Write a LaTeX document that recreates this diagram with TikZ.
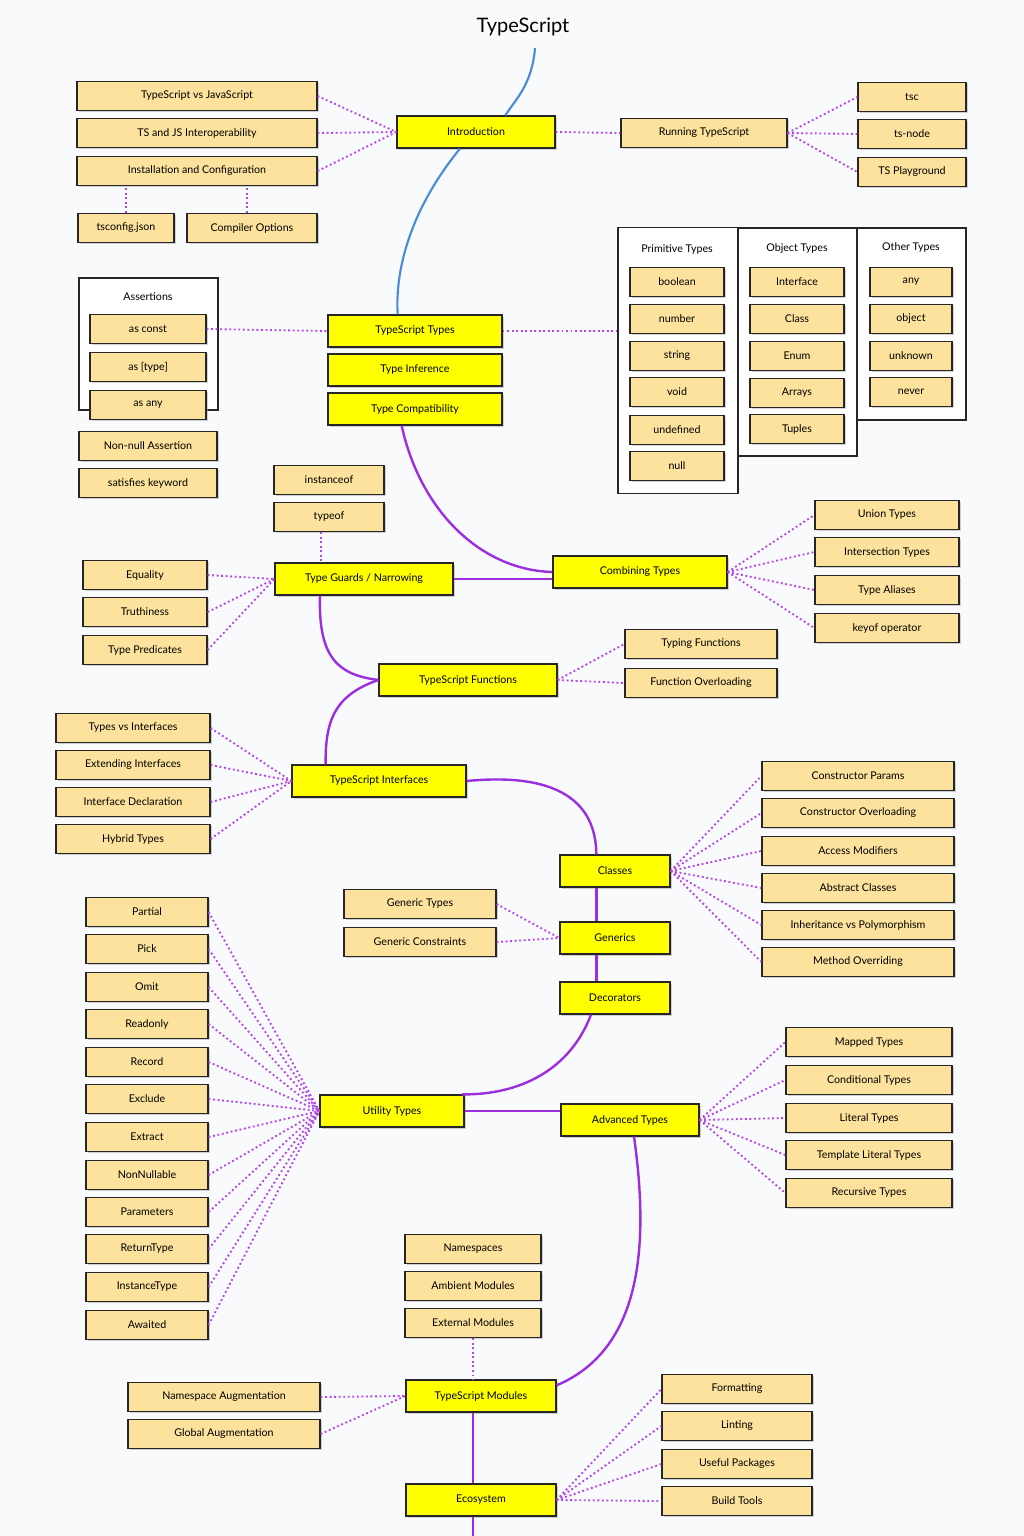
\documentclass[tikz,border=0pt]{standalone}
\usepackage{fontspec}
\setmainfont{Lato}
\usetikzlibrary{shadows}
\definecolor{topicyellow}{HTML}{FFFF00}
\definecolor{subtan}{HTML}{FCE29C}
\definecolor{pathpurple}{HTML}{9B2FE0}
\definecolor{pathblue}{HTML}{4A8CD6}
\definecolor{dotpurple}{HTML}{B445EA}
\definecolor{pagebg}{HTML}{F9FAFC}
\tikzset{
  box/.style={draw=black!85, line width=0.9pt, minimum height=22pt, inner sep=1pt,
    font=\fontsize{8}{9}\selectfont, drop shadow={shadow xshift=1.2pt, shadow yshift=-1.2pt, fill=black!35}},
  topic/.style={box, fill=topicyellow, minimum width=#1*0.75pt, minimum height=24pt},
  sub/.style={box, fill=subtan, minimum width=#1*0.75pt},
  grp/.style={draw=black!85, line width=0.9pt, fill=white, minimum width=#1*0.75pt},
  grplabel/.style={font=\fontsize{8}{9}\selectfont},
  dots/.style={draw=dotpurple, dotted, line width=1.4pt},
  spine/.style={draw=pathpurple, line width=1.8pt},
}
\begin{document}
\begin{tikzpicture}[x=0.75pt, y=-0.75pt]
  \fill[pagebg] (0,0) rectangle (1024,1536);
  \useasboundingbox (0,0) rectangle (1024,1536);

  % Title and introduction
  \node[font=\fontsize{15}{17}\selectfont] (title) at (523,27) {TypeScript};
  \node[topic=158] (intro) at (476,132) {Introduction};
  \node[sub=240] (tsvsjs) at (197,96) {TypeScript vs JavaScript};
  \node[sub=240] (interop) at (197,133) {TS and JS Interoperability};
  \node[sub=240] (install) at (197,171) {Installation and Configuration};
  \node[sub=96] (tsconfig) at (126,228) {tsconfig.json};
  \node[sub=130] (compopt) at (252,228) {Compiler Options};
  \node[sub=166] (running) at (704,133) {Running TypeScript};
  \node[sub=108] (tsc) at (912,97) {tsc};
  \node[sub=108] (tsnode) at (912,134) {ts-node};
  \node[sub=108] (playground) at (912,172) {TS Playground};
  \foreach \n in {tsvsjs,interop,install} \draw[dots] (\n.east) -- (intro.west);
  \draw[dots] (tsconfig.north) -- (tsconfig.north |- install.south);
  \draw[dots] ([xshift=-4pt]compopt.north) -- ([xshift=-4pt]compopt.north |- install.south);
  \draw[dots] (intro.east) -- (running.west);
  \foreach \n in {tsc,tsnode,playground} \draw[dots] (running.east) -- (\n.west);

  % Types
  \node[topic=174] (tstypes) at (415,331) {TypeScript Types};
  \node[topic=174] (inference) at (415,370) {Type Inference};
  \node[topic=174] (compat) at (415,409) {Type Compatibility};
  \draw[pathblue, line width=1.6pt] (535,48) .. controls (532,85) and (515,100) .. ([xshift=22pt]intro.north);
  \draw[pathblue, line width=1.6pt] ([xshift=-12pt]intro.south) .. controls (410,210) and (395,270) .. ([xshift=-13pt]tstypes.north);

  \node[grp=139, minimum height=99pt] (assertbox) at (148.5,344) {};
  \node[grplabel] (assertlbl) at (148,297) {Assertions};
  \node[sub=116] (asconst) at (148,329) {as const};
  \node[sub=116] (astype) at (148,367) {as [type]};
  \node[sub=116] (asany) at (148,405) {as any};
  \node[sub=138] (nonnull) at (148,446) {Non-null Assertion};
  \node[sub=138] (satisfies) at (148,483) {satisfies keyword};
  \draw[dots] (asconst.east) -- (tstypes.west);

  \node[grp=120, minimum height=199pt] (primbox) at (678,360.5) {};
  \node[grp=119, minimum height=171pt] (objbox) at (797.5,342) {};
  \node[grp=109, minimum height=144pt] (otherbox) at (911.5,324) {};
  \node[grplabel] (primlbl) at (677,249) {Primitive Types};
  \node[grplabel] (objlbl) at (797,249) {Object Types};
  \node[grplabel] (otherlbl) at (911,247) {Other Types};
  \foreach \t/\y/\n in {boolean/282/pboolean, number/319/pnumber, string/356/pstring, void/392/pvoid, undefined/430/pundef, null/466/pnull}
    \node[sub=94] (\n) at (677,\y) {\t};
  \foreach \t/\y/\n in {Interface/282/ointerface, Class/319/oclass, Enum/356/oenum, Arrays/393/oarrays, Tuples/429/otuples}
    \node[sub=94] (\n) at (797,\y) {\t};
  \foreach \t/\y/\n in {any/282/tany, object/319/tobject, unknown/356/tunknown, never/392/tnever}
    \node[sub=82] (\n) at (911,\y) {\t};
  \draw[dots] (tstypes.east) -- (tstypes.east -| primbox.west);

  % Combining types and narrowing
  \node[topic=174] (combining) at (640,572) {Combining Types};
  \foreach \t/\y/\n in {Union Types/515/union, Intersection Types/552/inter, Type Aliases/590/aliases, keyof operator/628/keyof} {
    \node[sub=144] (\n) at (887,\y) {\t};
    \draw[dots] (combining.east) -- (\n.west);
  }
  \draw[spine] ([xshift=-10pt]compat.south) .. controls (420,510) and (480,570) .. (combining.west);

  \node[topic=178] (guards) at (364,579) {Type Guards / Narrowing};
  \node[sub=110] (instanceof) at (329,480) {instanceof};
  \node[sub=110] (typeofn) at (329,517) {typeof};
  \draw[dots] ([xshift=-6pt]typeofn.south) -- ([xshift=-6pt]typeofn.south |- guards.north);
  \foreach \t/\y/\n in {Equality/575/equality, Truthiness/612/truthiness, Type Predicates/650/predicates} {
    \node[sub=124] (\n) at (145,\y) {\t};
    \draw[dots] (\n.east) -- (guards.west);
  }
  \draw[spine] (guards.east) -- (guards.east -| combining.west);

  % Functions and interfaces
  \node[topic=178] (functions) at (468,680) {TypeScript Functions};
  \node[sub=152] (typingfn) at (701,644) {Typing Functions};
  \node[sub=152] (overload) at (701,683) {Function Overloading};
  \draw[dots] (functions.east) -- (typingfn.west);
  \draw[dots] (functions.east) -- (overload.west);
  \draw[spine] ([xshift=-33pt]guards.south) .. controls (318,660) and (340,675) .. (functions.west);

  \node[topic=174] (interfaces) at (379,781) {TypeScript Interfaces};
  \foreach \t/\y/\n in {Types vs Interfaces/728/tvi, Extending Interfaces/765/extending, Interface Declaration/802/ideclare, Hybrid Types/839/hybrid} {
    \node[sub=154] (\n) at (133,\y) {\t};
    \draw[dots] (\n.east) -- (interfaces.west);
  }
  \draw[spine] (functions.west) .. controls (335,695) and (325,720) .. ([xshift=-40pt]interfaces.north);

  % Classes, generics, decorators
  \node[topic=110] (classes) at (615,871) {Classes};
  \node[topic=110] (generics) at (615,938) {Generics};
  \node[topic=110] (decorators) at (615,998) {Decorators};
  \foreach \t/\y/\n in {Constructor Params/776/ctorparams, Constructor Overloading/813/ctoroverload, Access Modifiers/851/access, Abstract Classes/888/abstract, Inheritance vs Polymorphism/925/inherit, Method Overriding/962/overriding} {
    \node[sub=192] (\n) at (858,\y) {\t};
    \draw[dots] (classes.east) -- (\n.west);
  }
  \node[sub=152] (gtypes) at (420,904) {Generic Types};
  \node[sub=152] (gconstr) at (420,942) {Generic Constraints};
  \draw[dots] (gtypes.east) -- (generics.west);
  \draw[dots] (gconstr.east) -- (generics.west);
  \draw[spine] (interfaces.east) .. controls (580,770) and (596,820) .. ([xshift=-14pt]classes.north);
  \draw[spine] ([xshift=-14pt]classes.south) -- ([xshift=-14pt]generics.north);
  \draw[spine] ([xshift=-14pt]generics.south) -- ([xshift=-14pt]decorators.north);

  % Utility and advanced types
  \node[topic=144] (utility) at (392,1111) {Utility Types};
  \foreach \t/\y/\n in {Partial/912/upartial, Pick/949/upick, Omit/987/uomit, Readonly/1024/ureadonly, Record/1062/urecord, Exclude/1099/uexclude, Extract/1137/uextract, NonNullable/1175/unonnull, Parameters/1212/uparams, ReturnType/1249/ureturn, InstanceType/1287/uinstance, Awaited/1325/uawaited} {
    \node[sub=122] (\n) at (147,\y) {\t};
    \draw[dots] (\n.east) -- (utility.west);
  }
  \draw[spine] ([xshift=-18pt]decorators.south) .. controls (570,1070) and (520,1095) .. ([xshift=-2pt]utility.north east);

  \node[topic=138] (advanced) at (630,1120) {Advanced Types};
  \foreach \t/\y/\n in {Mapped Types/1042/mapped, Conditional Types/1080/conditional, Literal Types/1118/literal, Template Literal Types/1155/template, Recursive Types/1193/recursive} {
    \node[sub=166] (\n) at (869,\y) {\t};
    \draw[dots] (advanced.east) -- (\n.west);
  }
  \draw[spine] (utility.east) -- (utility.east -| advanced.west);

  % Modules and ecosystem
  \node[topic=150] (modules) at (481,1396) {TypeScript Modules};
  \node[sub=136] (namespaces) at (473,1249) {Namespaces};
  \node[sub=136] (ambient) at (473,1286) {Ambient Modules};
  \node[sub=136] (external) at (473,1323) {External Modules};
  \draw[dots] (external.south) -- (external.south |- modules.north);
  \node[sub=192] (nsaug) at (224,1397) {Namespace Augmentation};
  \node[sub=192] (globalaug) at (224,1434) {Global Augmentation};
  \draw[dots] (nsaug.east) -- (modules.west);
  \draw[dots] (globalaug.east) -- (modules.west);
  \draw[spine] ([xshift=3pt]advanced.south) .. controls (650,1250) and (640,1350) .. ([yshift=8pt]modules.east);

  \node[topic=150] (ecosystem) at (481,1500) {Ecosystem};
  \foreach \t/\y/\n in {Formatting/1389/formatting, Linting/1426/linting, Useful Packages/1464/usefulpkg, Build Tools/1501/buildtools} {
    \node[sub=150] (\n) at (737,\y) {\t};
    \draw[dots] (ecosystem.east) -- (\n.west);
  }
  \coordinate (tailend) at (473,1536);
  \draw[spine] ([xshift=-6pt]modules.south) -- ([xshift=-6pt]ecosystem.north);
  \draw[spine] ([xshift=-6pt]ecosystem.south) -- (tailend);
\end{tikzpicture}
\end{document}
